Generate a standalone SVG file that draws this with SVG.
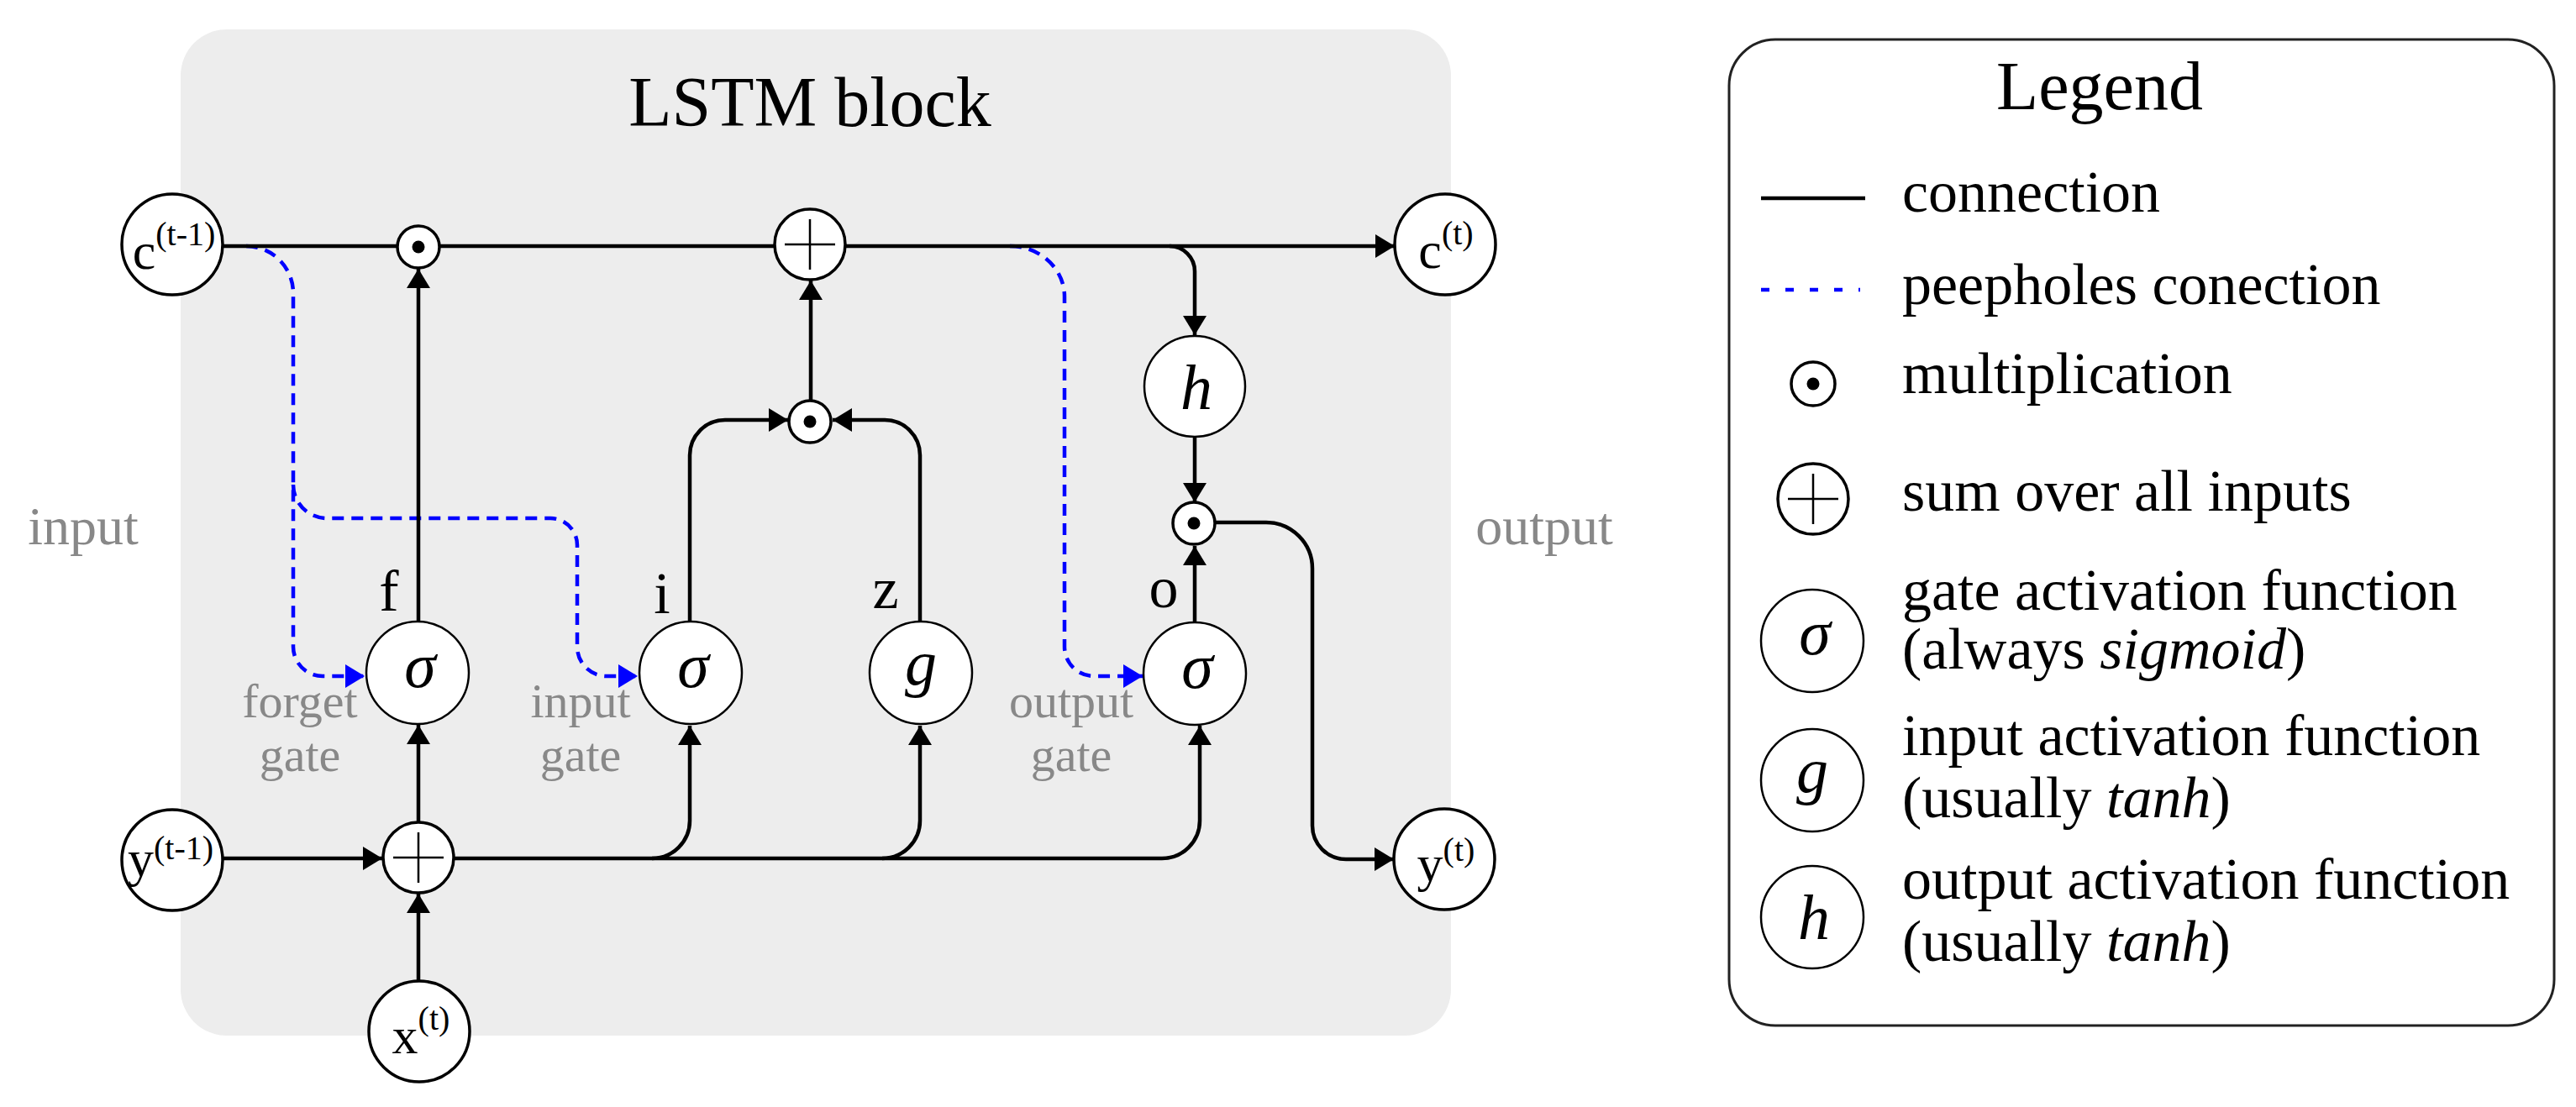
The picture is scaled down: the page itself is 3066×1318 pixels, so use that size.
<svg xmlns="http://www.w3.org/2000/svg" width="3066" height="1318" viewBox="0 0 3066 1318">
<style>
text{font-family:"Liberation Serif","Times New Roman",serif;fill:#000}
.io{fill:#fff;stroke:#000;stroke-width:3.5}
.fn{fill:#fff;stroke:#000;stroke-width:2.5}
.op{fill:#fff;stroke:#000;stroke-width:3.5}
.plus{stroke:#000;stroke-width:2.5;fill:none}
.ln{fill:none;stroke:#000;stroke-width:4.5}
.pp{fill:none;stroke:#0000ff;stroke-width:4.5;stroke-dasharray:14 9}
.gl{fill:#888;font-size:64px;text-anchor:middle}
.gs{fill:#888;font-size:58px;text-anchor:middle}
.lab{font-size:70px;text-anchor:middle}
.main{font-size:62px;text-anchor:middle}
.sup{font-size:40px}
.gr{font-size:76px;font-style:italic;text-anchor:middle}
.lt{font-size:70px}
</style>
<defs>
<marker id="ah" markerUnits="userSpaceOnUse" markerWidth="24" markerHeight="28" refX="23" refY="14" orient="auto" overflow="visible">
<path d="M0,0 L23,14 L0,28 Z" fill="#000"/>
</marker>
<marker id="ahb" markerUnits="userSpaceOnUse" markerWidth="24" markerHeight="28" refX="23" refY="14" orient="auto" overflow="visible">
<path d="M0,0 L23,14 L0,28 Z" fill="#0000ff"/>
</marker>
</defs>
<rect width="3066" height="1318" fill="#fff"/>
<g id="lstm-block">
<rect x="215" y="35" width="1512" height="1198" rx="55" ry="55" fill="#ededed"/>
<text x="964" y="150" font-size="84" text-anchor="middle">LSTM block</text>
</g>
<g id="side-labels">
<text class="gl" x="99" y="648">input</text>
<text class="gl" x="1838" y="648">output</text>
<text class="gs" x="357" y="854">forget</text>
<text class="gs" x="357" y="918">gate</text>
<text class="gs" x="691" y="854">input</text>
<text class="gs" x="691" y="918">gate</text>
<text class="gs" x="1275" y="854">output</text>
<text class="gs" x="1275" y="918">gate</text>
<text class="lab" x="463" y="727">f</text>
<text class="lab" x="788" y="730">i</text>
<text class="lab" x="1054" y="724">z</text>
<text class="lab" x="1385" y="723">o</text>
</g>
<g id="connectors">
<path class="pp" d="M293,293 A56,56 0 0 1 349,349 L349,770 A35,35 0 0 0 384,805 L434,805" marker-end="url(#ahb)"/>
<path class="pp" d="M349,577 A40,40 0 0 0 389,617 L655,617 A32,32 0 0 1 687,649 L687,770 A35,35 0 0 0 722,805 L759,805" marker-end="url(#ahb)"/>
<path class="pp" d="M1202,293 A65,60 0 0 1 1267,353 L1267,770 A35,35 0 0 0 1302,805 L1360,805" marker-end="url(#ahb)"/>
<path class="ln" d="M265,293 L473,293"/>
<path class="ln" d="M523,293 L922,293"/>
<path class="ln" d="M1007,293 L1660,293" marker-end="url(#ah)"/>
<path class="ln" d="M1392,293 A30,30 0 0 1 1422,323 L1422,399" marker-end="url(#ah)"/>
<path class="ln" d="M1422,520 L1422,598" marker-end="url(#ah)"/>
<path class="ln" d="M1422,741 L1422,650" marker-end="url(#ah)"/>
<path class="ln" d="M1446,622 L1507,622 A55,55 0 0 1 1562,677 L1562,983 A40,40 0 0 0 1602,1023 L1659,1023" marker-end="url(#ah)"/>
<path class="ln" d="M965,476 L965,334" marker-end="url(#ah)"/>
<path class="ln" d="M821,741 L821,542 A42,42 0 0 1 863,500 L938,500" marker-end="url(#ah)"/>
<path class="ln" d="M1095,741 L1095,542 A42,42 0 0 0 1053,500 L991,500" marker-end="url(#ah)"/>
<path class="ln" d="M498,740 L498,320" marker-end="url(#ah)"/>
<path class="ln" d="M498,979 L498,863" marker-end="url(#ah)"/>
<path class="ln" d="M498,1168 L498,1064" marker-end="url(#ah)"/>
<path class="ln" d="M265,1022 L455,1022" marker-end="url(#ah)"/>
<path class="ln" d="M540,1022 L1383,1022 A45,45 0 0 0 1428,977 L1428,864" marker-end="url(#ah)"/>
<path class="ln" d="M776,1022 A45,45 0 0 0 821,977 L821,864" marker-end="url(#ah)"/>
<path class="ln" d="M1050,1022 A45,45 0 0 0 1095,977 L1095,864" marker-end="url(#ah)"/>
</g>
<g id="node-c-prev">
<circle class="io" cx="205" cy="291" r="60"/>
<text class="main" x="207" y="320">c<tspan class="sup" dy="-28">(t-1)</tspan></text>
</g>
<g id="node-c-t">
<circle class="io" cx="1720" cy="291" r="60"/>
<text class="main" x="1721" y="319">c<tspan class="sup" dy="-28">(t)</tspan></text>
</g>
<g id="node-y-prev">
<circle class="io" cx="205" cy="1024" r="60"/>
<text class="main" x="203" y="1043">y<tspan class="sup" dy="-20">(t-1)</tspan></text>
</g>
<g id="node-x-t">
<circle class="io" cx="499" cy="1228" r="60"/>
<text class="main" x="501" y="1254">x<tspan class="sup" dy="-28">(t)</tspan></text>
</g>
<g id="node-y-t">
<circle class="io" cx="1719" cy="1023" r="60"/>
<text class="main" x="1721" y="1049">y<tspan class="sup" dy="-24">(t)</tspan></text>
</g>
<g id="node-mul-forget">
<circle class="op" cx="498" cy="294" r="25"/>
<circle cx="498" cy="294" r="7.5" fill="#000"/>
</g>
<g id="node-sum-cell">
<circle class="op" cx="964" cy="291" r="42"/>
<path class="plus" d="M934,291 H994 M964,261 V321"/>
</g>
<g id="node-mul-input">
<circle class="op" cx="964" cy="502" r="25"/>
<circle cx="964" cy="502" r="7.5" fill="#000"/>
</g>
<g id="node-h">
<circle class="fn" cx="1422" cy="460" r="60"/>
<text class="gr" x="1424" y="487">h</text>
</g>
<g id="node-mul-output">
<circle class="op" cx="1421" cy="623" r="25"/>
<circle cx="1421" cy="623" r="7.5" fill="#000"/>
</g>
<g id="node-sigma-forget">
<circle class="fn" cx="497" cy="801" r="61"/>
<text class="gr" x="500" y="818">σ</text>
</g>
<g id="node-sigma-input">
<circle class="fn" cx="822" cy="801" r="61"/>
<text class="gr" x="825" y="818">σ</text>
</g>
<g id="node-g">
<circle class="fn" cx="1096" cy="801" r="61"/>
<text class="gr" x="1096" y="815">g</text>
</g>
<g id="node-sigma-output">
<circle class="fn" cx="1422" cy="802" r="61"/>
<text class="gr" x="1425" y="819">σ</text>
</g>
<g id="node-sum-input">
<circle class="op" cx="498" cy="1021" r="42"/>
<path class="plus" d="M468,1021 H528 M498,991 V1051"/>
</g>
<g id="legend">
<rect x="2058" y="47" width="982" height="1174" rx="55" ry="55" fill="#fff" stroke="#222" stroke-width="3"/>
<text x="2499" y="130" font-size="82" text-anchor="middle">Legend</text>
<line x1="2096" y1="236" x2="2220" y2="236" stroke="#000" stroke-width="4.5"/>
<text class="lt" x="2264" y="252">connection</text>
<line x1="2096" y1="345" x2="2214" y2="345" stroke="#0000ff" stroke-width="4.5" stroke-dasharray="10 19"/>
<text class="lt" x="2264" y="362">peepholes conection</text>
<circle class="op" cx="2158" cy="457" r="26" stroke-width="3"/>
<circle cx="2158" cy="457" r="7.5" fill="#000"/>
<text class="lt" x="2264" y="468">multiplication</text>
<circle class="op" cx="2158" cy="594" r="42" stroke-width="3"/>
<path class="plus" d="M2128,594 H2188 M2158,564 V624"/>
<text class="lt" x="2264" y="608">sum over all inputs</text>
<circle class="fn" cx="2157" cy="763" r="61"/>
<text class="gr" x="2160" y="779">σ</text>
<text class="lt" x="2264" y="726">gate activation function</text>
<text class="lt" x="2264" y="796">(always <tspan font-style="italic">sigmoid</tspan>)</text>
<circle class="fn" cx="2157" cy="929" r="61"/>
<text class="gr" x="2157" y="943">g</text>
<text class="lt" x="2264" y="899">input activation function</text>
<text class="lt" x="2264" y="973">(usually <tspan font-style="italic">tanh</tspan>)</text>
<circle class="fn" cx="2157" cy="1092" r="61"/>
<text class="gr" x="2159" y="1118">h</text>
<text class="lt" x="2264" y="1070">output activation function</text>
<text class="lt" x="2264" y="1144">(usually <tspan font-style="italic">tanh</tspan>)</text>
</g>
</svg>
